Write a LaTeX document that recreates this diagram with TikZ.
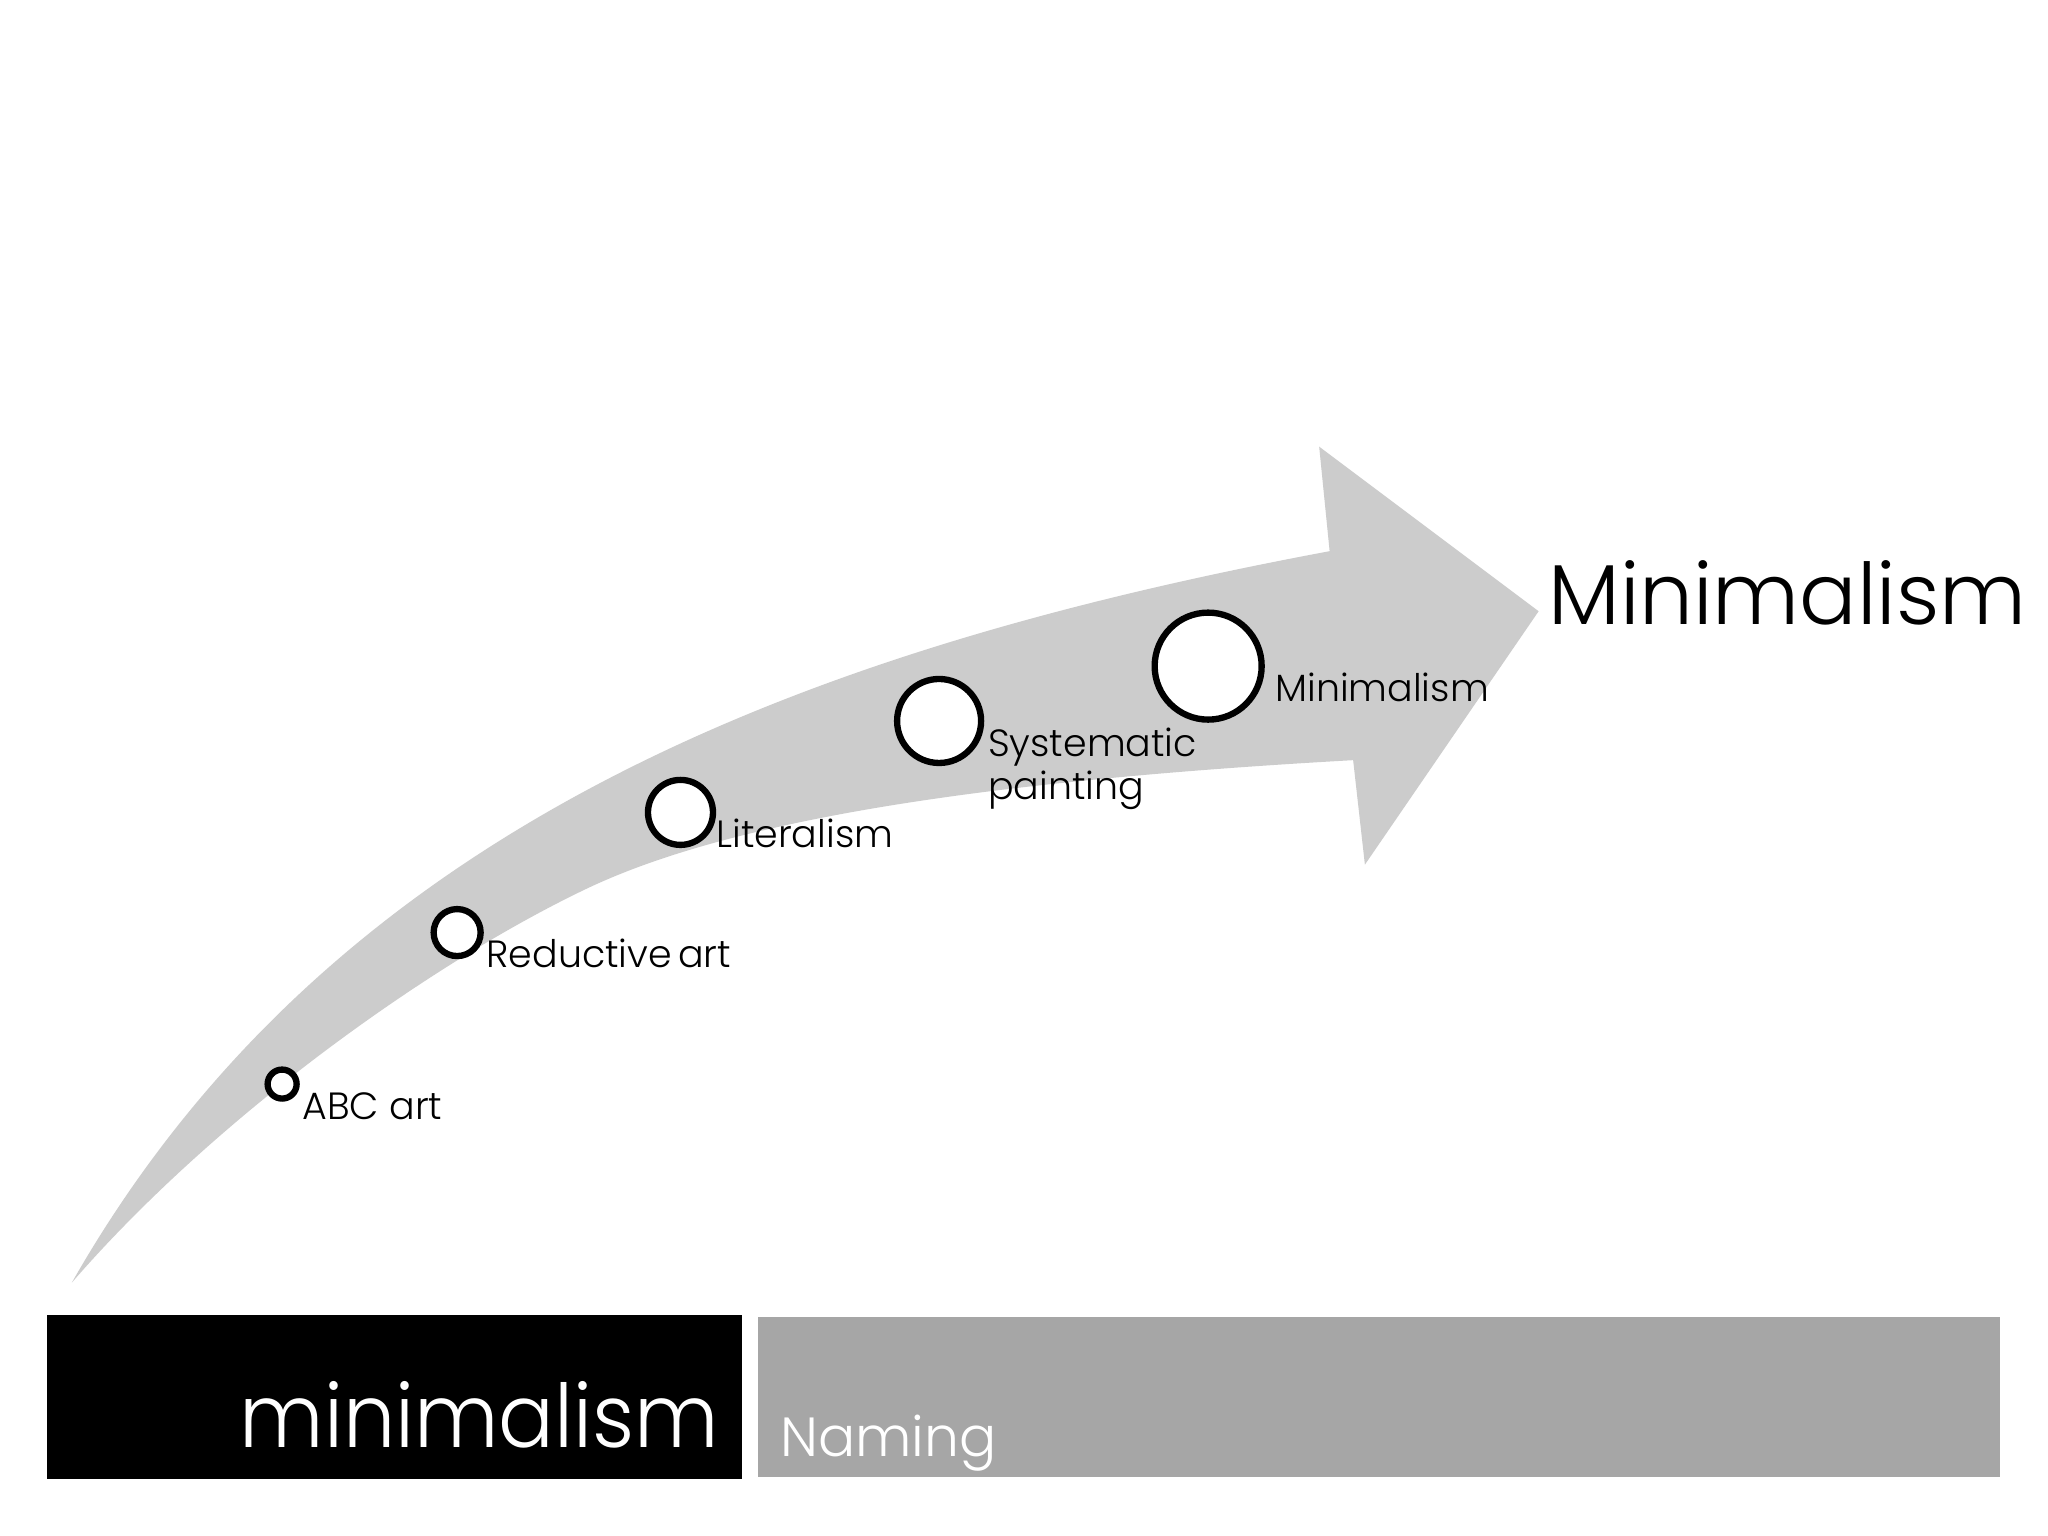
\documentclass[tikz,border=0pt]{standalone}
\usepackage{fontspec}
\setmainfont{Poppins}[UprightFont=* Light]
\definecolor{arrowgray}{HTML}{CCCCCC}
\definecolor{bargray}{HTML}{A6A6A6}
\begin{document}
\begin{tikzpicture}[x=0.013061cm,y=-0.013061cm,
  dot/.style={circle,draw=black,fill=white,line width=1.8pt,inner sep=0pt},
  lbl/.style={anchor=base west,inner sep=0pt,font=\fontsize{10.8}{12.3}\selectfont},
  bar/.style={inner sep=0pt,anchor=north west}]
\useasboundingbox[fill=white] (0,0) rectangle (1568,1176);
% curved arrow
\fill[arrowgray] (55,982) .. controls (250,640) and (600,500) .. (1018,422)
  -- (1010,342) -- (1178,468) -- (1045,662) -- (1036,582)
  .. controls (750,598) and (560,628) .. (450,680)
  .. controls (330,737) and (165,855) .. (55,982) -- cycle;
% stage circles
\node[dot,minimum size=0.29cm] (c1) at (216,830) {};
\node[dot,minimum size=0.47cm] (c2) at (350,714) {};
\node[dot,minimum size=0.65cm] (c3) at (521,622) {};
\node[dot,minimum size=0.84cm] (c4) at (719,552) {};
\node[dot,minimum size=1.07cm] (c5) at (925,510) {};
% labels
\node[lbl] (t1) at (231,857) {ABC art};
\node[lbl] (t2) at (372,741) {Reductive\,art};
\node[lbl] (t3) at (548,649) {Literalism};
\node[lbl,align=left] (t4) at (756,612) {Systematic\\painting};
\node[lbl] (t5) at (976,537) {Minimalism};
\node[anchor=base west,inner sep=0pt,font=\fontsize{24.2}{28}\selectfont] (title) at (1185,478) {Minimalism};
% bottom bars
\fill[black] (36,1007) rectangle (568,1132);
\fill[bargray] (580,1008) rectangle (1531,1131);
\node[anchor=base east,inner sep=0pt,text=white,font=\fontsize{25}{30}\selectfont] (kw) at (551,1108) {\scalebox{0.94}[1]{minimalism}};
\node[anchor=base west,inner sep=0pt,text=white,font=\fontsize{15.7}{19}\selectfont] (nm) at (597,1115) {Naming};
\end{tikzpicture}
\end{document}
